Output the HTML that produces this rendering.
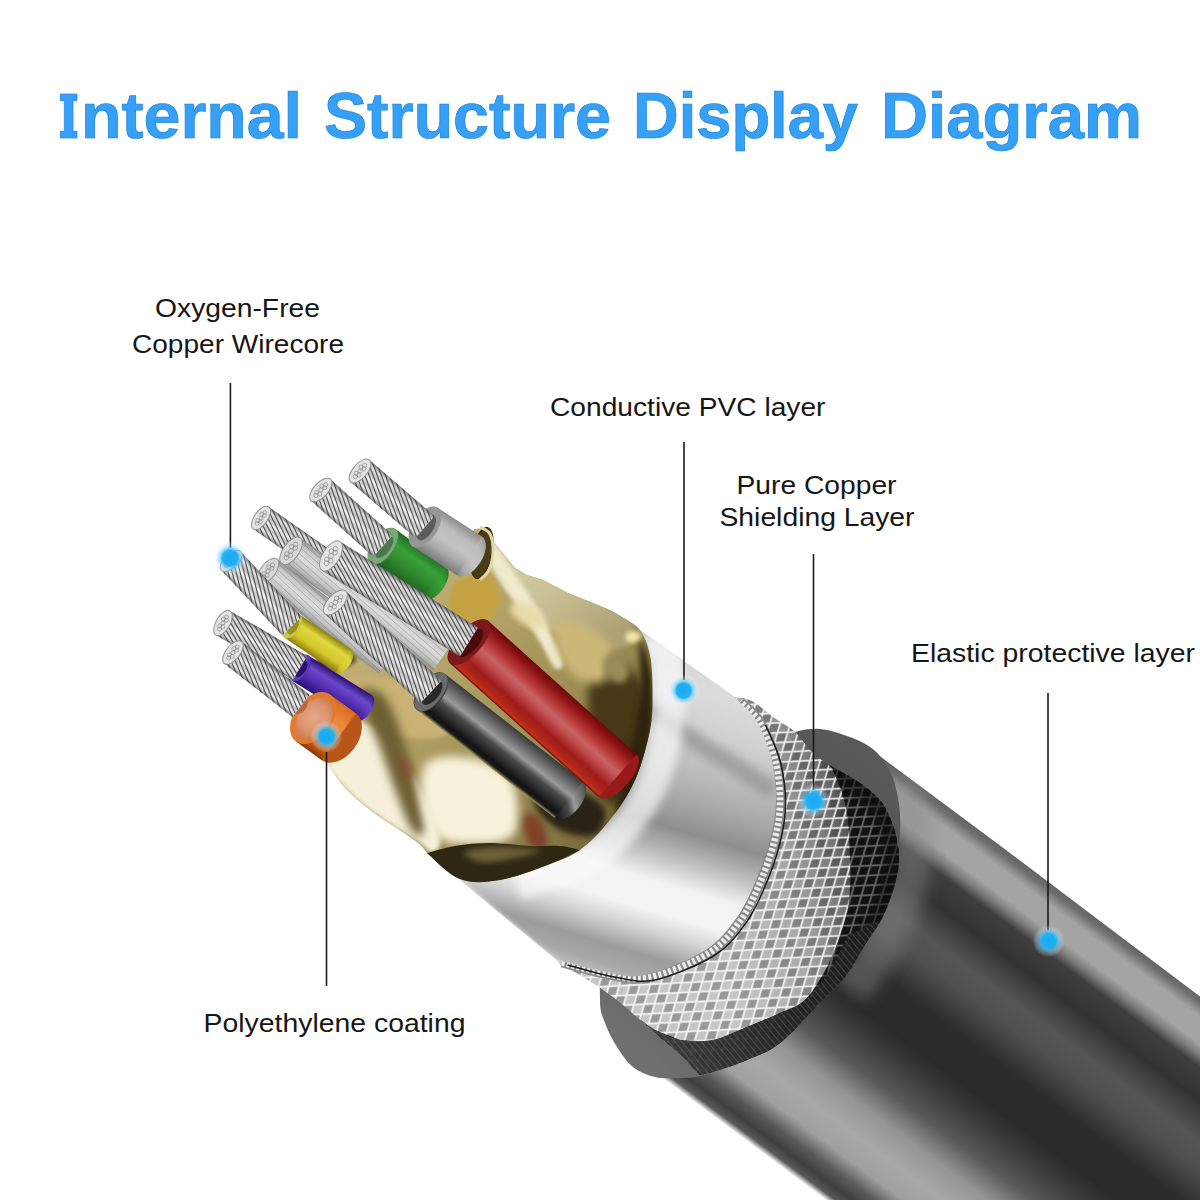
<!DOCTYPE html>
<html><head><meta charset="utf-8"><style>
html,body{margin:0;padding:0;background:#fff;width:1200px;height:1200px;overflow:hidden}
svg{display:block}
</style></head><body>
<svg width="1200" height="1200" viewBox="0 0 1200 1200">
<defs>
<filter id="fb5s" x="-30%" y="-30%" width="160%" height="160%"><feGaussianBlur stdDeviation="5"/></filter>
<filter id="fb8" x="-50%" y="-50%" width="200%" height="200%"><feGaussianBlur stdDeviation="8"/></filter>
<linearGradient id="gJacket" gradientUnits="userSpaceOnUse" x1="1000.0" y1="846.0" x2="768.0" y2="1157.0"><stop offset="0.000" stop-color="#646464"/><stop offset="0.015" stop-color="#6e6e6e"/><stop offset="0.030" stop-color="#8a8a8a"/><stop offset="0.045" stop-color="#a4a4a4"/><stop offset="0.100" stop-color="#a4a4a4"/><stop offset="0.125" stop-color="#7a7a7a"/><stop offset="0.150" stop-color="#3e3e3e"/><stop offset="0.220" stop-color="#333333"/><stop offset="0.300" stop-color="#555555"/><stop offset="0.360" stop-color="#505050"/><stop offset="0.450" stop-color="#2c2c2c"/><stop offset="0.550" stop-color="#2a2a2a"/><stop offset="0.600" stop-color="#3a3a3a"/><stop offset="0.680" stop-color="#5a5a5a"/><stop offset="0.750" stop-color="#959595"/><stop offset="0.820" stop-color="#a8a8a8"/><stop offset="0.880" stop-color="#a0a0a0"/><stop offset="0.925" stop-color="#5a5a5a"/><stop offset="0.960" stop-color="#3e3e3e"/><stop offset="0.985" stop-color="#5a5a5a"/><stop offset="1.000" stop-color="#ffffff"/></linearGradient>
<clipPath id="cJacket"><path d="M850.0,790.0 L881.0,757.0 L1000.0,845.5 L1100.0,921.0 L1210.0,1004.0 L1210.0,1210.0 L839.0,1210.0 L657.0,1075.0 L700.0,900.0Z"/></clipPath>
<linearGradient id="gFace" gradientUnits="userSpaceOnUse" x1="620.0" y1="1040.0" x2="880.0" y2="760.0"><stop offset="0.000" stop-color="#707070"/><stop offset="0.300" stop-color="#5e5e5e"/><stop offset="0.700" stop-color="#505050"/><stop offset="1.000" stop-color="#5a5a5a"/></linearGradient>
<linearGradient id="gBraid" gradientUnits="userSpaceOnUse" x1="720.0" y1="920.0" x2="865.0" y2="890.0"><stop offset="0.000" stop-color="#c6c6c6"/><stop offset="0.500" stop-color="#a8a8a8"/><stop offset="0.850" stop-color="#747474"/><stop offset="1.000" stop-color="#4a4a4a"/></linearGradient>
<pattern id="pMesh" patternUnits="userSpaceOnUse" width="17" height="12" patternTransform="rotate(-38)"><path d="M0,6 L8.5,0 L17,6 L8.5,12Z" fill="#000" fill-opacity="0.25" stroke="#fafafa" stroke-width="1.7"/></pattern>
<clipPath id="cDark"><path d="M827.0,764.0 C829.2,765.2 834.5,767.8 840.0,771.0 C845.5,774.2 853.3,778.2 860.0,783.0 C866.7,787.8 874.8,793.8 880.0,800.0 C885.2,806.2 888.2,813.3 891.0,820.0 C893.8,826.7 895.7,833.3 897.0,840.0 C898.3,846.7 899.2,853.0 899.0,860.0 C898.8,867.0 897.5,875.3 896.0,882.0 C894.5,888.7 892.5,893.7 890.0,900.0 C887.5,906.3 885.5,912.0 881.0,920.0 C876.5,928.0 869.0,938.5 863.0,948.0 C857.0,957.5 852.7,967.3 845.0,977.0 C837.3,986.7 827.8,995.0 817.0,1006.0 C806.2,1017.0 791.7,1034.0 780.0,1043.0 C768.3,1052.0 759.5,1054.8 747.0,1060.0 C734.5,1065.2 713.3,1072.0 705.0,1074.0 C696.7,1076.0 700.7,1074.8 697.0,1072.0 C693.3,1069.2 688.7,1062.3 683.0,1057.0 C677.3,1051.7 668.5,1044.8 663.0,1040.0 C657.5,1035.2 652.2,1030.0 650.0,1028.0 L680.0,1040.0 C685.5,1040.0 701.8,1042.2 713.0,1040.0 C724.2,1037.8 735.8,1031.5 747.0,1027.0 C758.2,1022.5 770.3,1017.5 780.0,1013.0 C789.7,1008.5 797.0,1008.0 805.0,1000.0 C813.0,992.0 821.3,978.3 828.0,965.0 C834.7,951.7 841.3,932.5 845.0,920.0 C848.7,907.5 849.2,900.0 850.0,890.0 C850.8,880.0 850.3,871.7 850.0,860.0 C849.7,848.3 849.3,831.2 848.0,820.0 C846.7,808.8 844.7,801.7 842.0,793.0 C839.3,784.3 833.7,772.2 832.0,768.0Z"/></clipPath>
<pattern id="pStreak" patternUnits="userSpaceOnUse" width="9" height="40" patternTransform="rotate(-35)"><path d="M4.5,0 L4.5,26" stroke="#e8e8e8" stroke-width="1.6"/></pattern>
<linearGradient id="gKnit" gradientUnits="userSpaceOnUse" x1="650.0" y1="1060.0" x2="880.0" y2="900.0"><stop offset="0.000" stop-color="#404040"/><stop offset="0.500" stop-color="#262626"/><stop offset="1.000" stop-color="#1c1c1c"/></linearGradient>
<pattern id="pKnit" patternUnits="userSpaceOnUse" width="5" height="8" patternTransform="rotate(-40)"><path d="M2.5,0 L2.5,8" stroke="#8a8a8a" stroke-width="1"/></pattern>
<clipPath id="cInside"><path d="M200.0,400.0 L660.0,400.0 L660.0,617.0 L622.0,617.0 C625.0,619.2 635.3,623.7 640.0,630.0 C644.7,636.3 647.9,644.7 650.0,655.0 C652.1,665.3 652.5,679.5 652.5,692.0 C652.5,704.5 652.9,715.3 650.0,730.0 C647.1,744.7 641.7,765.0 635.0,780.0 C628.3,795.0 619.2,808.3 610.0,820.0 C600.8,831.7 590.0,842.7 580.0,850.0 C570.0,857.3 563.3,859.0 550.0,864.0 C536.7,869.0 515.0,877.5 500.0,880.0 C485.0,882.5 472.2,883.5 460.0,879.0 C447.8,874.5 432.5,857.3 427.0,853.0 L200.0,853.0Z"/></clipPath>
<linearGradient id="gSilver" gradientUnits="userSpaceOnUse" x1="680.0" y1="632.5" x2="576.2" y2="976.2"><stop offset="0.000" stop-color="#d0d0d0"/><stop offset="0.139" stop-color="#dcdcdc"/><stop offset="0.250" stop-color="#d0d0d0"/><stop offset="0.361" stop-color="#bcbcbc"/><stop offset="0.444" stop-color="#a8a8a8"/><stop offset="0.528" stop-color="#8e8e8e"/><stop offset="0.597" stop-color="#b8b8b8"/><stop offset="0.681" stop-color="#f2f2f2"/><stop offset="0.764" stop-color="#f4f4f4"/><stop offset="0.819" stop-color="#d4d4d4"/><stop offset="0.889" stop-color="#9c9c9c"/><stop offset="0.944" stop-color="#a8a8a8"/><stop offset="1.000" stop-color="#d0d0d0"/></linearGradient>
<clipPath id="cSilver"><path d="M622.0,617.0 L735.0,697.0 L736.0,699.0 C739.3,702.5 750.2,710.3 756.0,720.0 C761.8,729.7 767.7,743.7 771.0,757.0 C774.3,770.3 776.2,786.2 776.0,800.0 C775.8,813.8 773.7,825.8 770.0,840.0 C766.3,854.2 759.8,871.7 754.0,885.0 C748.2,898.3 743.3,909.0 735.0,920.0 C726.7,931.0 719.0,941.8 704.0,951.0 C689.0,960.2 661.5,971.5 645.0,975.0 C628.5,978.5 619.5,974.5 605.0,972.0 C590.5,969.5 565.8,962.0 558.0,960.0 L560.0,963.0 L427.0,853.0 C432.5,857.3 447.8,874.5 460.0,879.0 C472.2,883.5 485.0,882.5 500.0,880.0 C515.0,877.5 536.7,869.0 550.0,864.0 C563.3,859.0 570.0,857.3 580.0,850.0 C590.0,842.7 600.8,831.7 610.0,820.0 C619.2,808.3 628.3,795.0 635.0,780.0 C641.7,765.0 647.1,744.7 650.0,730.0 C652.9,715.3 652.5,704.5 652.5,692.0 C652.5,679.5 652.1,665.3 650.0,655.0 C647.9,644.7 644.7,636.3 640.0,630.0 C635.3,623.7 625.0,619.2 622.0,617.0Z"/></clipPath>
<linearGradient id="gGold" gradientUnits="userSpaceOnUse" x1="360.0" y1="620.0" x2="640.0" y2="860.0"><stop offset="0.000" stop-color="#c4b27a"/><stop offset="0.300" stop-color="#b0a064"/><stop offset="0.600" stop-color="#9a8a52"/><stop offset="1.000" stop-color="#6a5c30"/></linearGradient>
<filter id="fb2" x="-20%" y="-20%" width="140%" height="140%"><feGaussianBlur stdDeviation="2"/></filter>
<filter id="fb3" x="-20%" y="-20%" width="140%" height="140%"><feGaussianBlur stdDeviation="3"/></filter>
<filter id="fb5" x="-30%" y="-30%" width="160%" height="160%"><feGaussianBlur stdDeviation="5"/></filter>
<clipPath id="cGold"><path d="M474.0,529.0 L486.0,528.0 L492.0,540.0 L502.0,552.0 L515.0,568.0 L527.0,575.0 L543.0,580.0 L568.0,593.0 L593.0,603.0 L612.0,611.0 L622.0,617.0 C625.0,619.2 635.3,623.7 640.0,630.0 C644.7,636.3 647.9,644.7 650.0,655.0 C652.1,665.3 652.5,679.5 652.5,692.0 C652.5,704.5 652.9,715.3 650.0,730.0 C647.1,744.7 641.7,765.0 635.0,780.0 C628.3,795.0 619.2,808.3 610.0,820.0 C600.8,831.7 590.0,842.7 580.0,850.0 C570.0,857.3 563.3,859.0 550.0,864.0 C536.7,869.0 515.0,877.5 500.0,880.0 C485.0,882.5 472.2,883.5 460.0,879.0 C447.8,874.5 432.5,857.3 427.0,853.0 C425.5,851.3 423.3,847.3 418.0,843.0 C412.7,838.7 403.0,832.5 395.0,827.0 C387.0,821.5 378.3,816.5 370.0,810.0 C361.7,803.5 352.2,795.8 345.0,788.0 C337.8,780.2 330.0,767.2 327.0,763.0 L320.0,745.0 L330.0,720.0 L317.0,655.0 L350.0,640.0 L400.0,600.0 L440.0,570.0 L470.0,545.0 L474.0,529.0Z"/></clipPath>
<linearGradient id="gGoldTop" gradientUnits="userSpaceOnUse" x1="500.0" y1="540.0" x2="600.0" y2="650.0"><stop offset="0.000" stop-color="#d8d0a8"/><stop offset="0.500" stop-color="#cac096"/><stop offset="1.000" stop-color="#aca074"/></linearGradient>
<linearGradient id="gw1" gradientUnits="userSpaceOnUse" x1="268.7" y1="506.9" x2="253.3" y2="529.1"><stop offset="0.000" stop-color="#7a7a7a"/><stop offset="0.150" stop-color="#e0e0e0"/><stop offset="0.350" stop-color="#c4c4c4"/><stop offset="0.500" stop-color="#f4f4f4"/><stop offset="0.680" stop-color="#c8c8c8"/><stop offset="0.850" stop-color="#e8e8e8"/><stop offset="1.000" stop-color="#7e7e7e"/></linearGradient>
<clipPath id="cs2"><path d="M253.3,529.1 L376.1,615.1 L391.6,593.0 L268.7,506.9Z"/></clipPath>
<linearGradient id="gw3" gradientUnits="userSpaceOnUse" x1="300.2" y1="537.9" x2="281.8" y2="564.1"><stop offset="0.000" stop-color="#8e8e8e"/><stop offset="0.200" stop-color="#c8c8c8"/><stop offset="0.500" stop-color="#dcdcdc"/><stop offset="0.800" stop-color="#c0c0c0"/><stop offset="1.000" stop-color="#929292"/></linearGradient>
<clipPath id="cs4"><path d="M281.8,564.1 L433.4,670.2 L451.7,644.0 L300.2,537.9Z"/></clipPath>
<linearGradient id="gw5" gradientUnits="userSpaceOnUse" x1="277.0" y1="559.0" x2="259.0" y2="583.0"><stop offset="0.000" stop-color="#8e8e8e"/><stop offset="0.200" stop-color="#c8c8c8"/><stop offset="0.500" stop-color="#dcdcdc"/><stop offset="0.800" stop-color="#c0c0c0"/><stop offset="1.000" stop-color="#929292"/></linearGradient>
<clipPath id="cs6"><path d="M259.0,583.0 L378.8,673.3 L396.8,649.3 L277.0,559.0Z"/></clipPath>
<linearGradient id="gw7" gradientUnits="userSpaceOnUse" x1="395.3" y1="529.0" x2="370.7" y2="563.0"><stop offset="0.000" stop-color="#1f6e1f"/><stop offset="0.300" stop-color="#3aa03a"/><stop offset="0.600" stop-color="#2e8a2e"/><stop offset="1.000" stop-color="#1c5a1c"/></linearGradient>
<linearGradient id="gw8" gradientUnits="userSpaceOnUse" x1="330.5" y1="479.2" x2="311.1" y2="500.8"><stop offset="0.000" stop-color="#7a7a7a"/><stop offset="0.150" stop-color="#e0e0e0"/><stop offset="0.350" stop-color="#c4c4c4"/><stop offset="0.500" stop-color="#f4f4f4"/><stop offset="0.680" stop-color="#c8c8c8"/><stop offset="0.850" stop-color="#e8e8e8"/><stop offset="1.000" stop-color="#7e7e7e"/></linearGradient>
<clipPath id="cs9"><path d="M311.1,500.8 L373.3,556.8 L392.7,535.2 L330.5,479.2Z"/></clipPath>
<linearGradient id="gw10" gradientUnits="userSpaceOnUse" x1="437.5" y1="507.7" x2="412.5" y2="546.3"><stop offset="0.000" stop-color="#8c8c8c"/><stop offset="0.250" stop-color="#bcbcbc"/><stop offset="0.500" stop-color="#c4c4c4"/><stop offset="0.750" stop-color="#a8a8a8"/><stop offset="1.000" stop-color="#7a7a7a"/></linearGradient>
<linearGradient id="gw11" gradientUnits="userSpaceOnUse" x1="369.5" y1="460.0" x2="350.5" y2="482.0"><stop offset="0.000" stop-color="#7a7a7a"/><stop offset="0.150" stop-color="#e0e0e0"/><stop offset="0.350" stop-color="#c4c4c4"/><stop offset="0.500" stop-color="#f4f4f4"/><stop offset="0.680" stop-color="#c8c8c8"/><stop offset="0.850" stop-color="#e8e8e8"/><stop offset="1.000" stop-color="#7e7e7e"/></linearGradient>
<clipPath id="cs12"><path d="M350.5,482.0 L415.5,538.0 L434.5,516.0 L369.5,460.0Z"/></clipPath>
<linearGradient id="gw13" gradientUnits="userSpaceOnUse" x1="299.8" y1="614.4" x2="284.2" y2="637.6"><stop offset="0.000" stop-color="#8a7e10"/><stop offset="0.300" stop-color="#e0d840"/><stop offset="0.700" stop-color="#d2c62a"/><stop offset="1.000" stop-color="#8a7e10"/></linearGradient>
<linearGradient id="gw14" gradientUnits="userSpaceOnUse" x1="240.8" y1="551.8" x2="221.2" y2="570.2"><stop offset="0.000" stop-color="#7a7a7a"/><stop offset="0.150" stop-color="#e0e0e0"/><stop offset="0.350" stop-color="#c4c4c4"/><stop offset="0.500" stop-color="#f4f4f4"/><stop offset="0.680" stop-color="#c8c8c8"/><stop offset="0.850" stop-color="#e8e8e8"/><stop offset="1.000" stop-color="#7e7e7e"/></linearGradient>
<clipPath id="cs15"><path d="M221.2,570.2 L282.2,635.2 L301.8,616.8 L240.8,551.8Z"/></clipPath>
<linearGradient id="gw16" gradientUnits="userSpaceOnUse" x1="445.2" y1="673.9" x2="416.8" y2="710.1"><stop offset="0.000" stop-color="#3a3a3a"/><stop offset="0.200" stop-color="#6a6a6a"/><stop offset="0.400" stop-color="#9a9a9a"/><stop offset="0.550" stop-color="#4a4a4a"/><stop offset="0.850" stop-color="#141414"/><stop offset="0.930" stop-color="#1a1a1a"/><stop offset="1.000" stop-color="#b0a060"/></linearGradient>
<linearGradient id="gw17" gradientUnits="userSpaceOnUse" x1="346.0" y1="591.2" x2="324.8" y2="613.8"><stop offset="0.000" stop-color="#7a7a7a"/><stop offset="0.150" stop-color="#e0e0e0"/><stop offset="0.350" stop-color="#c4c4c4"/><stop offset="0.500" stop-color="#f4f4f4"/><stop offset="0.680" stop-color="#c8c8c8"/><stop offset="0.850" stop-color="#e8e8e8"/><stop offset="1.000" stop-color="#7e7e7e"/></linearGradient>
<clipPath id="cs18"><path d="M324.8,613.8 L420.4,703.3 L441.6,680.7 L346.0,591.2Z"/></clipPath>
<linearGradient id="gw19" gradientUnits="userSpaceOnUse" x1="488.1" y1="620.8" x2="449.9" y2="663.2"><stop offset="0.000" stop-color="#6a0a0a"/><stop offset="0.120" stop-color="#901414"/><stop offset="0.300" stop-color="#b83838"/><stop offset="0.450" stop-color="#c86464"/><stop offset="0.550" stop-color="#c05050"/><stop offset="0.750" stop-color="#a01c1c"/><stop offset="0.900" stop-color="#b02818"/><stop offset="0.960" stop-color="#c83018"/><stop offset="1.000" stop-color="#5a0808"/></linearGradient>
<linearGradient id="gw20" gradientUnits="userSpaceOnUse" x1="340.0" y1="541.6" x2="322.0" y2="570.4"><stop offset="0.000" stop-color="#7a7a7a"/><stop offset="0.150" stop-color="#e0e0e0"/><stop offset="0.350" stop-color="#c4c4c4"/><stop offset="0.500" stop-color="#f4f4f4"/><stop offset="0.680" stop-color="#c8c8c8"/><stop offset="0.850" stop-color="#e8e8e8"/><stop offset="1.000" stop-color="#7e7e7e"/></linearGradient>
<clipPath id="cs21"><path d="M322.0,570.4 L460.0,656.4 L478.0,627.6 L340.0,541.6Z"/></clipPath>
<linearGradient id="gw22" gradientUnits="userSpaceOnUse" x1="307.9" y1="655.3" x2="292.1" y2="680.7"><stop offset="0.000" stop-color="#2a1070"/><stop offset="0.300" stop-color="#6a48c8"/><stop offset="0.700" stop-color="#4a28a8"/><stop offset="1.000" stop-color="#2a1070"/></linearGradient>
<linearGradient id="gw23" gradientUnits="userSpaceOnUse" x1="230.1" y1="610.9" x2="215.9" y2="635.1"><stop offset="0.000" stop-color="#7a7a7a"/><stop offset="0.150" stop-color="#e0e0e0"/><stop offset="0.350" stop-color="#c4c4c4"/><stop offset="0.500" stop-color="#f4f4f4"/><stop offset="0.680" stop-color="#c8c8c8"/><stop offset="0.850" stop-color="#e8e8e8"/><stop offset="1.000" stop-color="#7e7e7e"/></linearGradient>
<clipPath id="cs24"><path d="M215.9,635.1 L292.9,680.1 L307.1,655.9 L230.1,610.9Z"/></clipPath>
<linearGradient id="gw25" gradientUnits="userSpaceOnUse" x1="330.0" y1="694.5" x2="296.0" y2="741.5"><stop offset="0.000" stop-color="#d86a1c"/><stop offset="0.300" stop-color="#ee8a3c"/><stop offset="0.600" stop-color="#e27628"/><stop offset="0.850" stop-color="#c85a10"/><stop offset="1.000" stop-color="#8a3a08"/></linearGradient>
<radialGradient id="gOrFace" gradientUnits="userSpaceOnUse" cx="313.0" cy="718.0" r="24.0"><stop offset="0.000" stop-color="#e6a886"/><stop offset="0.600" stop-color="#dc9470"/><stop offset="1.000" stop-color="#d27a48"/></radialGradient>
<linearGradient id="gw26" gradientUnits="userSpaceOnUse" x1="241.7" y1="641.5" x2="224.3" y2="663.5"><stop offset="0.000" stop-color="#7a7a7a"/><stop offset="0.150" stop-color="#e0e0e0"/><stop offset="0.350" stop-color="#c4c4c4"/><stop offset="0.500" stop-color="#f4f4f4"/><stop offset="0.680" stop-color="#c8c8c8"/><stop offset="0.850" stop-color="#e8e8e8"/><stop offset="1.000" stop-color="#7e7e7e"/></linearGradient>
<clipPath id="cs27"><path d="M224.3,663.5 L292.3,717.0 L309.7,695.0 L241.7,641.5Z"/></clipPath>
<radialGradient id="gDot"><stop offset="0" stop-color="#1aa8f0"/><stop offset="0.45" stop-color="#1fb0f5"/><stop offset="0.6" stop-color="#5cc8fa" stop-opacity="0.6"/><stop offset="1" stop-color="#ffffff" stop-opacity="0"/></radialGradient>
</defs>
<rect width="1200" height="1200" fill="#fff"/>
<path d="M850.0,790.0 L881.0,757.0 L1000.0,845.5 L1100.0,921.0 L1210.0,1004.0 L1210.0,1210.0 L839.0,1210.0 L657.0,1075.0 L700.0,900.0Z" fill="url(#gJacket)"/>
<path d="M900.0,780.0 C902.0,787.5 910.3,810.0 912.0,825.0 C913.7,840.0 912.3,855.8 910.0,870.0 C907.7,884.2 903.3,896.7 898.0,910.0 C892.7,923.3 886.0,936.7 878.0,950.0 C870.0,963.3 854.7,983.3 850.0,990.0" fill="none" stroke="#8a8a8a" stroke-width="40" opacity="0.45" filter="url(#fb8)" clip-path="url(#cJacket)"/>
<path d="M600.0,1000.0 C600.0,1012.2 602.2,1015.2 605.0,1023.0 C607.8,1030.8 612.3,1039.7 617.0,1047.0 C621.7,1054.3 626.7,1062.0 633.0,1067.0 C639.3,1072.0 647.2,1075.2 655.0,1077.0 C662.8,1078.8 671.7,1078.3 680.0,1078.0 C688.3,1077.7 693.8,1078.0 705.0,1075.0 C716.2,1072.0 734.5,1065.3 747.0,1060.0 C759.5,1054.7 768.3,1052.0 780.0,1043.0 C791.7,1034.0 806.2,1017.0 817.0,1006.0 C827.8,995.0 837.3,987.0 845.0,977.0 C852.7,967.0 857.0,957.2 863.0,946.0 C869.0,934.8 876.0,921.0 881.0,910.0 C886.0,899.0 890.2,888.3 893.0,880.0 C895.8,871.7 896.8,867.8 898.0,860.0 C899.2,852.2 899.7,840.8 900.0,833.0 C900.3,825.2 900.5,819.7 900.0,813.0 C899.5,806.3 898.5,799.7 897.0,793.0 C895.5,786.3 893.8,779.2 891.0,773.0 C888.2,766.8 884.0,760.7 880.0,756.0 C876.0,751.3 872.5,748.3 867.0,745.0 C861.5,741.7 854.8,738.7 847.0,736.0 C839.2,733.3 828.7,729.7 820.0,729.0 C811.3,728.3 805.0,729.3 795.0,732.0 C785.0,734.7 775.8,733.7 760.0,745.0 C744.2,756.3 720.0,777.5 700.0,800.0 C680.0,822.5 655.8,855.0 640.0,880.0 C624.2,905.0 611.7,930.0 605.0,950.0 C598.3,970.0 600.0,987.8 600.0,1000.0Z" fill="url(#gFace)"/>
<path d="M735.0,697.0 C737.8,697.7 745.7,697.7 752.0,701.0 C758.3,704.3 765.8,711.8 773.0,717.0 C780.2,722.2 788.7,726.3 795.0,732.0 C801.3,737.7 805.7,745.7 811.0,751.0 C816.3,756.3 822.2,760.7 827.0,764.0 C831.8,767.3 834.5,767.8 840.0,771.0 C845.5,774.2 853.3,778.2 860.0,783.0 C866.7,787.8 874.8,793.8 880.0,800.0 C885.2,806.2 888.2,813.3 891.0,820.0 C893.8,826.7 895.7,833.3 897.0,840.0 C898.3,846.7 899.2,853.0 899.0,860.0 C898.8,867.0 897.5,875.3 896.0,882.0 C894.5,888.7 892.5,893.7 890.0,900.0 C887.5,906.3 885.5,912.0 881.0,920.0 C876.5,928.0 869.0,938.5 863.0,948.0 C857.0,957.5 852.7,967.3 845.0,977.0 C837.3,986.7 827.8,995.0 817.0,1006.0 C806.2,1017.0 791.7,1034.0 780.0,1043.0 C768.3,1052.0 759.5,1054.8 747.0,1060.0 C734.5,1065.2 713.3,1072.0 705.0,1074.0 C696.7,1076.0 700.7,1074.8 697.0,1072.0 C693.3,1069.2 688.7,1062.3 683.0,1057.0 C677.3,1051.7 670.5,1046.5 663.0,1040.0 C655.5,1033.5 646.3,1025.2 638.0,1018.0 C629.7,1010.8 622.7,1004.2 613.0,997.0 C603.3,989.8 588.8,980.3 580.0,975.0 C571.2,969.7 563.3,966.7 560.0,965.0 L558.0,960.0 C565.8,962.0 590.5,969.5 605.0,972.0 C619.5,974.5 628.5,978.5 645.0,975.0 C661.5,971.5 689.0,960.2 704.0,951.0 C719.0,941.8 726.7,931.0 735.0,920.0 C743.3,909.0 748.2,898.3 754.0,885.0 C759.8,871.7 766.3,854.2 770.0,840.0 C773.7,825.8 775.8,813.8 776.0,800.0 C776.2,786.2 774.3,770.3 771.0,757.0 C767.7,743.7 761.8,729.7 756.0,720.0 C750.2,710.3 739.3,702.5 736.0,699.0Z" fill="url(#gBraid)"/>
<path d="M735.0,697.0 C737.8,697.7 745.7,697.7 752.0,701.0 C758.3,704.3 765.8,711.8 773.0,717.0 C780.2,722.2 788.7,726.3 795.0,732.0 C801.3,737.7 805.7,745.7 811.0,751.0 C816.3,756.3 822.2,760.7 827.0,764.0 C831.8,767.3 834.5,767.8 840.0,771.0 C845.5,774.2 853.3,778.2 860.0,783.0 C866.7,787.8 874.8,793.8 880.0,800.0 C885.2,806.2 888.2,813.3 891.0,820.0 C893.8,826.7 895.7,833.3 897.0,840.0 C898.3,846.7 899.2,853.0 899.0,860.0 C898.8,867.0 897.5,875.3 896.0,882.0 C894.5,888.7 892.5,893.7 890.0,900.0 C887.5,906.3 885.5,912.0 881.0,920.0 C876.5,928.0 869.0,938.5 863.0,948.0 C857.0,957.5 852.7,967.3 845.0,977.0 C837.3,986.7 827.8,995.0 817.0,1006.0 C806.2,1017.0 791.7,1034.0 780.0,1043.0 C768.3,1052.0 759.5,1054.8 747.0,1060.0 C734.5,1065.2 713.3,1072.0 705.0,1074.0 C696.7,1076.0 700.7,1074.8 697.0,1072.0 C693.3,1069.2 688.7,1062.3 683.0,1057.0 C677.3,1051.7 670.5,1046.5 663.0,1040.0 C655.5,1033.5 646.3,1025.2 638.0,1018.0 C629.7,1010.8 622.7,1004.2 613.0,997.0 C603.3,989.8 588.8,980.3 580.0,975.0 C571.2,969.7 563.3,966.7 560.0,965.0 L558.0,960.0 C565.8,962.0 590.5,969.5 605.0,972.0 C619.5,974.5 628.5,978.5 645.0,975.0 C661.5,971.5 689.0,960.2 704.0,951.0 C719.0,941.8 726.7,931.0 735.0,920.0 C743.3,909.0 748.2,898.3 754.0,885.0 C759.8,871.7 766.3,854.2 770.0,840.0 C773.7,825.8 775.8,813.8 776.0,800.0 C776.2,786.2 774.3,770.3 771.0,757.0 C767.7,743.7 761.8,729.7 756.0,720.0 C750.2,710.3 739.3,702.5 736.0,699.0Z" fill="url(#pMesh)" opacity="0.9"/>
<path d="M827.0,764.0 C829.2,765.2 834.5,767.8 840.0,771.0 C845.5,774.2 853.3,778.2 860.0,783.0 C866.7,787.8 874.8,793.8 880.0,800.0 C885.2,806.2 888.2,813.3 891.0,820.0 C893.8,826.7 895.7,833.3 897.0,840.0 C898.3,846.7 899.2,853.0 899.0,860.0 C898.8,867.0 897.5,875.3 896.0,882.0 C894.5,888.7 892.5,893.7 890.0,900.0 C887.5,906.3 885.5,912.0 881.0,920.0 C876.5,928.0 869.0,938.5 863.0,948.0 C857.0,957.5 852.7,967.3 845.0,977.0 C837.3,986.7 827.8,995.0 817.0,1006.0 C806.2,1017.0 791.7,1034.0 780.0,1043.0 C768.3,1052.0 759.5,1054.8 747.0,1060.0 C734.5,1065.2 713.3,1072.0 705.0,1074.0 C696.7,1076.0 700.7,1074.8 697.0,1072.0 C693.3,1069.2 688.7,1062.3 683.0,1057.0 C677.3,1051.7 668.5,1044.8 663.0,1040.0 C657.5,1035.2 652.2,1030.0 650.0,1028.0 L680.0,1040.0 C685.5,1040.0 701.8,1042.2 713.0,1040.0 C724.2,1037.8 735.8,1031.5 747.0,1027.0 C758.2,1022.5 770.3,1017.5 780.0,1013.0 C789.7,1008.5 797.0,1008.0 805.0,1000.0 C813.0,992.0 821.3,978.3 828.0,965.0 C834.7,951.7 841.3,932.5 845.0,920.0 C848.7,907.5 849.2,900.0 850.0,890.0 C850.8,880.0 850.3,871.7 850.0,860.0 C849.7,848.3 849.3,831.2 848.0,820.0 C846.7,808.8 844.7,801.7 842.0,793.0 C839.3,784.3 833.7,772.2 832.0,768.0Z" fill="#0e0e0e" opacity="0.92"/>
<path d="M827.0,764.0 C829.2,765.2 834.5,767.8 840.0,771.0 C845.5,774.2 853.3,778.2 860.0,783.0 C866.7,787.8 874.8,793.8 880.0,800.0 C885.2,806.2 888.2,813.3 891.0,820.0 C893.8,826.7 895.7,833.3 897.0,840.0 C898.3,846.7 899.2,853.0 899.0,860.0 C898.8,867.0 897.5,875.3 896.0,882.0 C894.5,888.7 892.5,893.7 890.0,900.0 C887.5,906.3 885.5,912.0 881.0,920.0 C876.5,928.0 869.0,938.5 863.0,948.0 C857.0,957.5 852.7,967.3 845.0,977.0 C837.3,986.7 827.8,995.0 817.0,1006.0 C806.2,1017.0 791.7,1034.0 780.0,1043.0 C768.3,1052.0 759.5,1054.8 747.0,1060.0 C734.5,1065.2 713.3,1072.0 705.0,1074.0 C696.7,1076.0 700.7,1074.8 697.0,1072.0 C693.3,1069.2 688.7,1062.3 683.0,1057.0 C677.3,1051.7 668.5,1044.8 663.0,1040.0 C657.5,1035.2 652.2,1030.0 650.0,1028.0 L680.0,1040.0 C685.5,1040.0 701.8,1042.2 713.0,1040.0 C724.2,1037.8 735.8,1031.5 747.0,1027.0 C758.2,1022.5 770.3,1017.5 780.0,1013.0 C789.7,1008.5 797.0,1008.0 805.0,1000.0 C813.0,992.0 821.3,978.3 828.0,965.0 C834.7,951.7 841.3,932.5 845.0,920.0 C848.7,907.5 849.2,900.0 850.0,890.0 C850.8,880.0 850.3,871.7 850.0,860.0 C849.7,848.3 849.3,831.2 848.0,820.0 C846.7,808.8 844.7,801.7 842.0,793.0 C839.3,784.3 833.7,772.2 832.0,768.0Z" fill="url(#pMesh)" opacity="0.35"/>
<path d="M827.0,764.0 C829.2,765.2 834.5,767.8 840.0,771.0 C845.5,774.2 853.3,778.2 860.0,783.0 C866.7,787.8 874.8,793.8 880.0,800.0 C885.2,806.2 888.2,813.3 891.0,820.0 C893.8,826.7 895.7,833.3 897.0,840.0 C898.3,846.7 899.2,853.0 899.0,860.0 C898.8,867.0 897.5,875.3 896.0,882.0 C894.5,888.7 892.5,893.7 890.0,900.0 C887.5,906.3 885.5,912.0 881.0,920.0 C876.5,928.0 869.0,938.5 863.0,948.0 C857.0,957.5 852.7,967.3 845.0,977.0 C837.3,986.7 827.8,995.0 817.0,1006.0 C806.2,1017.0 791.7,1034.0 780.0,1043.0 C768.3,1052.0 759.5,1054.8 747.0,1060.0 C734.5,1065.2 712.0,1071.7 705.0,1074.0" fill="none" stroke="#0e0e0e" stroke-width="30" opacity="0.55" filter="url(#fb3)" clip-path="url(#cDark)"/>
<path d="M881.0,920.0 C878.0,924.7 869.0,938.5 863.0,948.0 C857.0,957.5 852.7,967.3 845.0,977.0 C837.3,986.7 827.8,995.0 817.0,1006.0 C806.2,1017.0 791.7,1034.0 780.0,1043.0 C768.3,1052.0 759.5,1054.8 747.0,1060.0 C734.5,1065.2 713.3,1072.0 705.0,1074.0 C696.7,1076.0 700.7,1074.8 697.0,1072.0 C693.3,1069.2 688.7,1062.3 683.0,1057.0 C677.3,1051.7 670.5,1046.5 663.0,1040.0 C655.5,1033.5 642.2,1021.7 638.0,1018.0 L655.0,1030.0 C659.2,1031.7 670.3,1038.3 680.0,1040.0 C689.7,1041.7 701.8,1042.2 713.0,1040.0 C724.2,1037.8 735.8,1031.5 747.0,1027.0 C758.2,1022.5 770.3,1017.5 780.0,1013.0 C789.7,1008.5 796.7,1007.2 805.0,1000.0 C813.3,992.8 822.8,980.8 830.0,970.0 C837.2,959.2 845.0,940.8 848.0,935.0Z" fill="url(#gKnit)" opacity="0.9"/>
<path d="M881.0,920.0 C878.0,924.7 869.0,938.5 863.0,948.0 C857.0,957.5 852.7,967.3 845.0,977.0 C837.3,986.7 827.8,995.0 817.0,1006.0 C806.2,1017.0 791.7,1034.0 780.0,1043.0 C768.3,1052.0 759.5,1054.8 747.0,1060.0 C734.5,1065.2 713.3,1072.0 705.0,1074.0 C696.7,1076.0 700.7,1074.8 697.0,1072.0 C693.3,1069.2 688.7,1062.3 683.0,1057.0 C677.3,1051.7 670.5,1046.5 663.0,1040.0 C655.5,1033.5 642.2,1021.7 638.0,1018.0 L655.0,1030.0 C659.2,1031.7 670.3,1038.3 680.0,1040.0 C689.7,1041.7 701.8,1042.2 713.0,1040.0 C724.2,1037.8 735.8,1031.5 747.0,1027.0 C758.2,1022.5 770.3,1017.5 780.0,1013.0 C789.7,1008.5 796.7,1007.2 805.0,1000.0 C813.3,992.8 822.8,980.8 830.0,970.0 C837.2,959.2 845.0,940.8 848.0,935.0Z" fill="url(#pKnit)" opacity="0.35"/>
<path d="M562.0,962.5 C569.8,964.5 594.5,972.0 609.0,974.5 C623.5,977.0 632.5,981.0 649.0,977.5 C665.5,974.0 693.0,962.7 708.0,953.5 C723.0,944.3 730.7,933.5 739.0,922.5 C747.3,911.5 752.2,900.8 758.0,887.5 C763.8,874.2 770.3,856.7 774.0,842.5 C777.7,828.3 779.8,816.3 780.0,802.5 C780.2,788.7 778.3,772.8 775.0,759.5 C771.7,746.2 765.8,732.2 760.0,722.5 C754.2,712.8 743.3,705.0 740.0,701.5" fill="none" stroke="#8a8a8a" stroke-width="10"/>
<path d="M562.0,962.5 C569.8,964.5 594.5,972.0 609.0,974.5 C623.5,977.0 632.5,981.0 649.0,977.5 C665.5,974.0 693.0,962.7 708.0,953.5 C723.0,944.3 730.7,933.5 739.0,922.5 C747.3,911.5 752.2,900.8 758.0,887.5 C763.8,874.2 770.3,856.7 774.0,842.5 C777.7,828.3 779.8,816.3 780.0,802.5 C780.2,788.7 778.3,772.8 775.0,759.5 C771.7,746.2 765.8,732.2 760.0,722.5 C754.2,712.8 743.3,705.0 740.0,701.5" fill="none" stroke="#ececec" stroke-width="6.5" stroke-dasharray="3 2.2"/>
<path d="M567.5,965.0 C575.3,967.0 600.0,974.5 614.5,977.0 C629.0,979.5 638.0,983.5 654.5,980.0 C671.0,976.5 698.5,965.2 713.5,956.0 C728.5,946.8 736.2,936.0 744.5,925.0 C752.8,914.0 757.7,903.3 763.5,890.0 C769.3,876.7 775.8,859.2 779.5,845.0 C783.2,830.8 785.3,818.8 785.5,805.0 C785.7,791.2 783.8,775.3 780.5,762.0 C777.2,748.7 768.0,731.2 765.5,725.0" fill="none" stroke="#1a1a1a" stroke-width="1.5"/>
<path d="M622.0,617.0 L735.0,697.0 L736.0,699.0 C739.3,702.5 750.2,710.3 756.0,720.0 C761.8,729.7 767.7,743.7 771.0,757.0 C774.3,770.3 776.2,786.2 776.0,800.0 C775.8,813.8 773.7,825.8 770.0,840.0 C766.3,854.2 759.8,871.7 754.0,885.0 C748.2,898.3 743.3,909.0 735.0,920.0 C726.7,931.0 719.0,941.8 704.0,951.0 C689.0,960.2 661.5,971.5 645.0,975.0 C628.5,978.5 619.5,974.5 605.0,972.0 C590.5,969.5 565.8,962.0 558.0,960.0 L560.0,963.0 L427.0,853.0 C432.5,857.3 447.8,874.5 460.0,879.0 C472.2,883.5 485.0,882.5 500.0,880.0 C515.0,877.5 536.7,869.0 550.0,864.0 C563.3,859.0 570.0,857.3 580.0,850.0 C590.0,842.7 600.8,831.7 610.0,820.0 C619.2,808.3 628.3,795.0 635.0,780.0 C641.7,765.0 647.1,744.7 650.0,730.0 C652.9,715.3 652.5,704.5 652.5,692.0 C652.5,679.5 652.1,665.3 650.0,655.0 C647.9,644.7 644.7,636.3 640.0,630.0 C635.3,623.7 625.0,619.2 622.0,617.0Z" fill="url(#gSilver)"/>
<path d="M650.0,708.0 C656.7,713.0 676.7,728.8 690.0,738.0 C703.3,747.2 715.8,754.0 730.0,763.0 C744.2,772.0 767.5,787.2 775.0,792.0" fill="none" stroke="#949494" stroke-width="18" opacity="0.75" filter="url(#fb5s)" clip-path="url(#cSilver)"/>
<path d="M657.0,635.0 C658.7,639.2 664.9,649.7 667.0,660.0 C669.1,670.3 669.5,684.5 669.5,697.0 C669.5,709.5 669.9,720.3 667.0,735.0 C664.1,749.7 658.7,770.0 652.0,785.0 C645.3,800.0 636.2,813.3 627.0,825.0 C617.8,836.7 607.0,847.7 597.0,855.0 C587.0,862.3 580.3,864.0 567.0,869.0 C553.7,874.0 525.3,882.3 517.0,885.0" fill="none" stroke="#fafafa" stroke-width="30" opacity="0.7" filter="url(#fb5s)" clip-path="url(#cSilver)"/>
<path d="M420,850 L556,964" stroke="#ffffff" stroke-width="7" opacity="0.7" filter="url(#fb2)"/>
<path d="M474.0,529.0 L486.0,528.0 L492.0,540.0 L502.0,552.0 L515.0,568.0 L527.0,575.0 L543.0,580.0 L568.0,593.0 L593.0,603.0 L612.0,611.0 L622.0,617.0 C625.0,619.2 635.3,623.7 640.0,630.0 C644.7,636.3 647.9,644.7 650.0,655.0 C652.1,665.3 652.5,679.5 652.5,692.0 C652.5,704.5 652.9,715.3 650.0,730.0 C647.1,744.7 641.7,765.0 635.0,780.0 C628.3,795.0 619.2,808.3 610.0,820.0 C600.8,831.7 590.0,842.7 580.0,850.0 C570.0,857.3 563.3,859.0 550.0,864.0 C536.7,869.0 515.0,877.5 500.0,880.0 C485.0,882.5 472.2,883.5 460.0,879.0 C447.8,874.5 432.5,857.3 427.0,853.0 C425.5,851.3 423.3,847.3 418.0,843.0 C412.7,838.7 403.0,832.5 395.0,827.0 C387.0,821.5 378.3,816.5 370.0,810.0 C361.7,803.5 352.2,795.8 345.0,788.0 C337.8,780.2 330.0,767.2 327.0,763.0 L320.0,745.0 L330.0,720.0 L317.0,655.0 L350.0,640.0 L400.0,600.0 L440.0,570.0 L470.0,545.0 L474.0,529.0Z" fill="url(#gGold)"/>
<g clip-path="url(#cGold)"><path d="M488.0,524.0 C490.7,522.8 497.5,541.2 502.0,548.0 C506.5,554.8 510.8,561.0 515.0,565.0 C519.2,569.0 522.3,570.0 527.0,572.0 C531.7,574.0 536.2,574.0 543.0,577.0 C549.8,580.0 559.7,586.2 568.0,590.0 C576.3,593.8 584.7,596.3 593.0,600.0 C601.3,603.7 611.5,609.3 618.0,612.0 C624.5,614.7 630.3,610.5 632.0,616.0 C633.7,621.5 633.3,639.7 628.0,645.0 C622.7,650.3 609.7,649.2 600.0,648.0 C590.3,646.8 579.2,641.3 570.0,638.0 C560.8,634.7 553.0,633.0 545.0,628.0 C537.0,623.0 529.5,615.7 522.0,608.0 C514.5,600.3 506.0,590.8 500.0,582.0 C494.0,573.2 488.0,564.7 486.0,555.0 C484.0,545.3 485.3,525.2 488.0,524.0Z" fill="url(#gGoldTop)" filter="url(#fb2)"/><path d="M494.0,545.0 C497.8,547.3 505.7,560.8 512.0,570.0 C518.3,579.2 525.7,589.7 532.0,600.0 C538.3,610.3 544.8,621.7 550.0,632.0 C555.2,642.3 562.2,656.0 563.0,662.0 C563.8,668.0 558.8,671.3 555.0,668.0 C551.2,664.7 545.8,651.7 540.0,642.0 C534.2,632.3 526.7,620.3 520.0,610.0 C513.3,599.7 505.2,589.0 500.0,580.0 C494.8,571.0 490.0,561.8 489.0,556.0 C488.0,550.2 490.2,542.7 494.0,545.0Z" fill="#f0eacd" filter="url(#fb2)"/><path d="M455.0,583.0 C461.0,575.3 480.5,573.2 488.0,576.0 C495.5,578.8 501.0,591.8 500.0,600.0 C499.0,608.2 490.0,621.3 482.0,625.0 C474.0,628.7 456.5,629.0 452.0,622.0 C447.5,615.0 449.0,590.7 455.0,583.0Z" fill="#c4a242" filter="url(#fb2)"/><path d="M595.0,660.0 C601.2,654.2 616.7,660.0 625.0,665.0 C633.3,670.0 640.8,679.2 645.0,690.0 C649.2,700.8 650.5,716.7 650.0,730.0 C649.5,743.3 646.7,757.5 642.0,770.0 C637.3,782.5 629.0,800.8 622.0,805.0 C615.0,809.2 605.0,805.0 600.0,795.0 C595.0,785.0 594.0,760.8 592.0,745.0 C590.0,729.2 587.5,714.2 588.0,700.0 C588.5,685.8 588.8,665.8 595.0,660.0Z" fill="#463814" filter="url(#fb5)"/><path d="M556.0,622.0 C561.0,617.5 580.7,623.3 590.0,628.0 C599.3,632.7 609.5,641.3 612.0,650.0 C614.5,658.7 610.3,675.0 605.0,680.0 C599.7,685.0 587.5,684.2 580.0,680.0 C572.5,675.8 564.0,664.7 560.0,655.0 C556.0,645.3 551.0,626.5 556.0,622.0Z" fill="#cbb878" filter="url(#fb5)"/><ellipse cx="633" cy="637" rx="8" ry="6" fill="#f2e4a8" filter="url(#fb2)"/><ellipse cx="616" cy="668" rx="12" ry="16" transform="rotate(-30 616 668)" fill="#9a8c58" filter="url(#fb3)"/><ellipse cx="528" cy="615" rx="20" ry="10" transform="rotate(30 528 615)" fill="#e8dca8" filter="url(#fb3)"/><path d="M640.0,640.0 C642.0,636.7 650.3,663.3 652.0,680.0 C653.7,696.7 652.3,721.7 650.0,740.0 C647.7,758.3 643.8,776.3 638.0,790.0 C632.2,803.7 616.7,827.0 615.0,822.0 C613.3,817.0 623.8,780.3 628.0,760.0 C632.2,739.7 638.0,720.0 640.0,700.0 C642.0,680.0 638.0,643.3 640.0,640.0Z" fill="#2e2410" filter="url(#fb3)"/><path d="M345.0,680.0 C355.0,673.3 423.3,680.8 440.0,690.0 C456.7,699.2 455.0,728.3 445.0,735.0 C435.0,741.7 396.7,739.2 380.0,730.0 C363.3,720.8 335.0,686.7 345.0,680.0Z" fill="#c8b276" filter="url(#fb2)"/><path d="M325.0,760.0 C326.2,768.3 337.5,779.7 345.0,788.0 C352.5,796.3 361.7,803.5 370.0,810.0 C378.3,816.5 386.7,821.5 395.0,827.0 C403.3,832.5 413.8,838.8 420.0,843.0 C426.2,847.2 428.7,852.5 432.0,852.0 C435.3,851.5 441.2,848.7 440.0,840.0 C438.8,831.3 430.8,813.3 425.0,800.0 C419.2,786.7 411.7,770.8 405.0,760.0 C398.3,749.2 392.2,741.3 385.0,735.0 C377.8,728.7 369.8,721.5 362.0,722.0 C354.2,722.5 344.2,731.7 338.0,738.0 C331.8,744.3 323.8,751.7 325.0,760.0Z" fill="#f6f0da" filter="url(#fb2)"/><path d="M360.0,690.0 C363.3,687.3 376.7,687.3 384.0,696.0 C391.3,704.7 398.0,724.7 404.0,742.0 C410.0,759.3 416.7,785.0 420.0,800.0 C423.3,815.0 425.3,827.0 424.0,832.0 C422.7,837.0 416.7,836.7 412.0,830.0 C407.3,823.3 401.7,806.7 396.0,792.0 C390.3,777.3 383.3,755.3 378.0,742.0 C372.7,728.7 367.0,720.7 364.0,712.0 C361.0,703.3 356.7,692.7 360.0,690.0Z" fill="#6e5e30" filter="url(#fb5)"/><ellipse cx="406" cy="768" rx="6" ry="12" transform="rotate(-20 406 768)" fill="#8a4a30" opacity="0.6" filter="url(#fb2)"/><path d="M428.0,762.0 C436.0,755.0 456.7,755.7 470.0,758.0 C483.3,760.3 500.0,767.3 508.0,776.0 C516.0,784.7 517.7,799.7 518.0,810.0 C518.3,820.3 518.0,832.3 510.0,838.0 C502.0,843.7 482.3,844.3 470.0,844.0 C457.7,843.7 444.0,843.3 436.0,836.0 C428.0,828.7 423.3,812.3 422.0,800.0 C420.7,787.7 420.0,769.0 428.0,762.0Z" fill="#f8f2dc" filter="url(#fb5)"/><path d="M540.0,775.0 C547.5,772.5 569.2,784.2 580.0,790.0 C590.8,795.8 602.5,802.5 605.0,810.0 C607.5,817.5 602.5,831.7 595.0,835.0 C587.5,838.3 570.0,835.0 560.0,830.0 C550.0,825.0 538.3,814.2 535.0,805.0 C531.7,795.8 532.5,777.5 540.0,775.0Z" fill="#2a2416" filter="url(#fb3)"/><ellipse cx="535" cy="832" rx="10" ry="20" transform="rotate(-20 535 832)" fill="#7a2a1a" opacity="0.7" filter="url(#fb3)"/></g>
<path d="M427.0,853.0 C432.5,857.3 447.8,874.5 460.0,879.0 C472.2,883.5 485.0,882.5 500.0,880.0 C515.0,877.5 536.7,869.0 550.0,864.0 C563.3,859.0 575.0,852.3 580.0,850.0 C576.7,849.3 568.3,846.7 560.0,846.0 C551.7,845.3 541.7,846.5 530.0,846.0 C518.3,845.5 502.5,843.0 490.0,843.0 C477.5,843.0 465.5,844.3 455.0,846.0 C444.5,847.7 431.7,851.8 427.0,853.0Z" fill="#2e2812"/>
<path d="M465.0,852.0 C468.3,849.5 487.5,847.2 500.0,847.0 C512.5,846.8 539.2,848.8 540.0,851.0 C540.8,853.2 515.0,858.2 505.0,860.0 C495.0,861.8 486.7,863.3 480.0,862.0 C473.3,860.7 461.7,854.5 465.0,852.0Z" fill="#8a7a48" opacity="0.7" filter="url(#fb3)"/>
<path d="M318.0,652.0 C322.2,649.0 338.7,646.7 345.0,648.0 C351.3,649.3 356.8,656.7 356.0,660.0 C355.2,663.3 346.0,667.0 340.0,668.0 C334.0,669.0 323.7,668.7 320.0,666.0 C316.3,663.3 313.8,655.0 318.0,652.0Z" fill="#3a2a10" opacity="0.85" filter="url(#fb2)"/>
<path d="M253.3,529.1 L376.1,615.1 L391.6,593.0 L268.7,506.9Z" fill="url(#gw1)"/><path d="M318.0,436.7 L393.5,590.3 M315.4,440.3 L391.0,593.9 M312.9,443.9 L388.5,597.5 M310.4,447.5 L385.9,601.1 M307.9,451.1 L383.4,604.7 M305.3,454.7 L380.9,608.3 M302.8,458.3 L378.4,611.9 M300.3,461.9 L375.8,615.5 M297.8,465.5 L373.3,619.1 M295.2,469.1 L370.8,622.7 M292.7,472.7 L368.3,626.3 M290.2,476.3 L365.7,629.9 M287.7,479.9 L363.2,633.5 M285.1,483.5 L360.7,637.1 M282.6,487.1 L358.2,640.7 M280.1,490.7 L355.7,644.3 M277.6,494.3 L353.1,647.9 M275.1,497.9 L350.6,651.5 M272.5,501.5 L348.1,655.2 M270.0,505.1 L345.6,658.8 M267.5,508.7 L343.0,662.4 M265.0,512.3 L340.5,666.0 M262.4,516.0 L338.0,669.6 M259.9,519.6 L335.5,673.2 M257.4,523.2 L332.9,676.8 M254.9,526.8 L330.4,680.4 M252.3,530.4 L327.9,684.0 M249.8,534.0 L325.4,687.6 M247.3,537.6 L322.8,691.2 M244.8,541.2 L320.3,694.8 " stroke="#3a3a3a" stroke-width="1.15" opacity="0.85" clip-path="url(#cs2)"/><ellipse cx="261.0" cy="518.0" rx="6.8" ry="13.5" transform="rotate(35.0 261.0 518.0)" fill="#e4e4e4" stroke="#909090" stroke-width="1"/><circle cx="261.0" cy="518.0" r="1.9" fill="none" stroke="#8a8a8a" stroke-width="0.7"/><circle cx="264.9" cy="512.5" r="1.9" fill="none" stroke="#8a8a8a" stroke-width="0.7"/><circle cx="257.1" cy="523.5" r="1.9" fill="none" stroke="#8a8a8a" stroke-width="0.7"/><circle cx="261.6" cy="514.3" r="1.9" fill="none" stroke="#8a8a8a" stroke-width="0.7"/><circle cx="260.4" cy="521.7" r="1.9" fill="none" stroke="#8a8a8a" stroke-width="0.7"/><circle cx="257.6" cy="520.5" r="1.9" fill="none" stroke="#8a8a8a" stroke-width="0.7"/><circle cx="264.4" cy="515.5" r="1.9" fill="none" stroke="#8a8a8a" stroke-width="0.7"/>
<path d="M281.8,564.1 L433.4,670.2 L451.7,644.0 L300.2,537.9Z" fill="url(#gw3)"/><path d="M313.1,519.5 L454.0,640.7 M310.2,523.6 L451.1,644.8 M307.3,527.7 L448.3,648.9 M304.5,531.7 L445.4,653.0 M301.6,535.8 L442.5,657.1 M298.7,539.9 L439.7,661.2 M295.9,544.0 L436.8,665.3 M293.0,548.1 L433.9,669.4 M290.1,552.2 L431.1,673.5 M287.3,556.3 L428.2,677.6 M284.4,560.4 L425.3,681.7 M281.5,564.5 L422.5,685.8 M278.7,568.6 L419.6,689.9 M275.8,572.7 L416.7,694.0 M272.9,576.8 L413.9,698.1 " stroke="#3a3a3a" stroke-width="0.8" opacity="0.3" clip-path="url(#cs4)"/><ellipse cx="291.0" cy="551.0" rx="8.0" ry="16.0" transform="rotate(35.0 291.0 551.0)" fill="#d8d8d8" stroke="#909090" stroke-width="1"/><circle cx="291.0" cy="551.0" r="2.3" fill="none" stroke="#8a8a8a" stroke-width="0.7"/><circle cx="295.6" cy="544.4" r="2.3" fill="none" stroke="#8a8a8a" stroke-width="0.7"/><circle cx="286.4" cy="557.6" r="2.3" fill="none" stroke="#8a8a8a" stroke-width="0.7"/><circle cx="291.7" cy="546.6" r="2.3" fill="none" stroke="#8a8a8a" stroke-width="0.7"/><circle cx="290.3" cy="555.4" r="2.3" fill="none" stroke="#8a8a8a" stroke-width="0.7"/><circle cx="286.9" cy="554.0" r="2.3" fill="none" stroke="#8a8a8a" stroke-width="0.7"/><circle cx="295.1" cy="548.0" r="2.3" fill="none" stroke="#8a8a8a" stroke-width="0.7"/>
<path d="M259.0,583.0 L378.8,673.3 L396.8,649.3 L277.0,559.0Z" fill="url(#gw5)"/><path d="M290.6,541.1 L401.3,643.3 M287.6,545.0 L398.3,647.3 M284.5,549.0 L395.3,651.3 M281.5,553.0 L392.3,655.3 M278.5,557.0 L389.3,659.3 M275.5,561.0 L386.3,663.3 M272.5,565.0 L383.3,667.3 M269.5,569.0 L380.3,671.3 M266.5,573.0 L377.3,675.2 M263.5,577.0 L374.3,679.2 M260.5,581.0 L371.2,683.2 M257.5,585.0 L368.2,687.2 M254.5,589.0 L365.2,691.2 M251.5,593.0 L362.2,695.2 M248.4,597.0 L359.2,699.2 " stroke="#3a3a3a" stroke-width="0.8" opacity="0.3" clip-path="url(#cs6)"/><ellipse cx="268.0" cy="571.0" rx="7.5" ry="15.0" transform="rotate(37.0 268.0 571.0)" fill="#d8d8d8" stroke="#909090" stroke-width="1"/><circle cx="268.0" cy="571.0" r="2.1" fill="none" stroke="#8a8a8a" stroke-width="0.7"/><circle cx="272.5" cy="565.0" r="2.1" fill="none" stroke="#8a8a8a" stroke-width="0.7"/><circle cx="263.5" cy="577.0" r="2.1" fill="none" stroke="#8a8a8a" stroke-width="0.7"/><circle cx="268.8" cy="566.9" r="2.1" fill="none" stroke="#8a8a8a" stroke-width="0.7"/><circle cx="267.2" cy="575.1" r="2.1" fill="none" stroke="#8a8a8a" stroke-width="0.7"/><circle cx="264.1" cy="573.7" r="2.1" fill="none" stroke="#8a8a8a" stroke-width="0.7"/><circle cx="271.9" cy="568.3" r="2.1" fill="none" stroke="#8a8a8a" stroke-width="0.7"/>
<ellipse cx="433.2" cy="582.4" rx="11.6" ry="21.0" transform="rotate(36.0 433.2 582.4)" fill="url(#gw7)"/><path d="M370.7,563.0 L420.8,599.4 L445.5,565.5 L395.3,529.0Z" fill="url(#gw7)"/><ellipse cx="383.0" cy="546.0" rx="11.6" ry="21.0" transform="rotate(36.0 383.0 546.0)" fill="#3c8f3c"/>
<ellipse cx="383.0" cy="546.0" rx="10.5" ry="21.0" transform="rotate(36.0 383.0 546.0)" fill="#7aa87a"/><ellipse cx="384.2" cy="546.9" rx="6.3" ry="13.0" transform="rotate(36.0 384.2 546.9)" fill="#4a7a4a"/>
<path d="M311.1,500.8 L373.3,556.8 L392.7,535.2 L330.5,479.2Z" fill="url(#gw8)"/><path d="M364.4,441.6 L395.8,531.8 M361.4,444.9 L392.8,535.1 M358.5,448.2 L389.9,538.4 M355.5,451.4 L386.9,541.6 M352.6,454.7 L384.0,544.9 M349.6,458.0 L381.0,548.2 M346.7,461.2 L378.1,551.4 M343.8,464.5 L375.2,554.7 M340.8,467.8 L372.2,558.0 M337.9,471.0 L369.3,561.3 M334.9,474.3 L366.3,564.5 M332.0,477.6 L363.4,567.8 M329.0,480.9 L360.4,571.1 M326.1,484.1 L357.5,574.3 M323.1,487.4 L354.5,577.6 M320.2,490.7 L351.6,580.9 M317.3,493.9 L348.7,584.1 M314.3,497.2 L345.7,587.4 M311.4,500.5 L342.8,590.7 M308.4,503.7 L339.8,594.0 M305.5,507.0 L336.9,597.2 M302.5,510.3 L333.9,600.5 " stroke="#3a3a3a" stroke-width="1.15" opacity="0.85" clip-path="url(#cs9)"/><ellipse cx="320.8" cy="490.0" rx="7.2" ry="14.5" transform="rotate(42.0 320.8 490.0)" fill="#e4e4e4" stroke="#909090" stroke-width="1"/><circle cx="320.8" cy="490.0" r="2.1" fill="none" stroke="#8a8a8a" stroke-width="0.7"/><circle cx="325.7" cy="484.6" r="2.1" fill="none" stroke="#8a8a8a" stroke-width="0.7"/><circle cx="315.9" cy="495.4" r="2.1" fill="none" stroke="#8a8a8a" stroke-width="0.7"/><circle cx="321.9" cy="486.1" r="2.1" fill="none" stroke="#8a8a8a" stroke-width="0.7"/><circle cx="319.7" cy="493.9" r="2.1" fill="none" stroke="#8a8a8a" stroke-width="0.7"/><circle cx="316.8" cy="492.3" r="2.1" fill="none" stroke="#8a8a8a" stroke-width="0.7"/><circle cx="324.8" cy="487.7" r="2.1" fill="none" stroke="#8a8a8a" stroke-width="0.7"/>
<ellipse cx="482.0" cy="553.0" rx="10.0" ry="26.0" transform="rotate(12.0 482.0 553.0)" fill="#4a3c18" stroke="#2a2008" stroke-width="1"/>
<ellipse cx="469.4" cy="555.9" rx="12.7" ry="23.0" transform="rotate(33.0 469.4 555.9)" fill="url(#gw10)"/><path d="M412.5,546.3 L456.9,575.2 L482.0,536.6 L437.5,507.7Z" fill="url(#gw10)"/><ellipse cx="425.0" cy="527.0" rx="12.7" ry="23.0" transform="rotate(33.0 425.0 527.0)" fill="#9c9c9c"/>
<ellipse cx="425.0" cy="527.0" rx="11.5" ry="23.0" transform="rotate(33.0 425.0 527.0)" fill="#969696"/><ellipse cx="426.3" cy="527.8" rx="6.9" ry="14.3" transform="rotate(33.0 426.3 527.8)" fill="#5c5c5c"/>
<path d="M350.5,482.0 L415.5,538.0 L434.5,516.0 L369.5,460.0Z" fill="url(#gw11)"/><path d="M402.5,421.7 L436.7,513.4 M399.6,425.0 L433.8,516.8 M396.7,428.3 L430.9,520.1 M393.9,431.7 L428.1,523.4 M391.0,435.0 L425.2,526.8 M388.1,438.3 L422.3,530.1 M385.3,441.7 L419.5,533.4 M382.4,445.0 L416.6,536.8 M379.5,448.3 L413.7,540.1 M376.6,451.7 L410.8,543.4 M373.8,455.0 L408.0,546.8 M370.9,458.3 L405.1,550.1 M368.0,461.7 L402.2,553.4 M365.2,465.0 L399.4,556.8 M362.3,468.3 L396.5,560.1 M359.4,471.7 L393.6,563.4 M356.5,475.0 L390.7,566.8 M353.7,478.3 L387.9,570.1 M350.8,481.7 L385.0,573.4 M347.9,485.0 L382.1,576.8 M345.1,488.3 L379.3,580.1 M342.2,491.7 L376.4,583.4 " stroke="#3a3a3a" stroke-width="1.15" opacity="0.85" clip-path="url(#cs12)"/><ellipse cx="360.0" cy="471.0" rx="7.2" ry="14.5" transform="rotate(40.7 360.0 471.0)" fill="#e4e4e4" stroke="#909090" stroke-width="1"/><circle cx="360.0" cy="471.0" r="2.1" fill="none" stroke="#8a8a8a" stroke-width="0.7"/><circle cx="364.7" cy="465.5" r="2.1" fill="none" stroke="#8a8a8a" stroke-width="0.7"/><circle cx="355.3" cy="476.5" r="2.1" fill="none" stroke="#8a8a8a" stroke-width="0.7"/><circle cx="361.0" cy="467.1" r="2.1" fill="none" stroke="#8a8a8a" stroke-width="0.7"/><circle cx="359.0" cy="474.9" r="2.1" fill="none" stroke="#8a8a8a" stroke-width="0.7"/><circle cx="356.1" cy="473.3" r="2.1" fill="none" stroke="#8a8a8a" stroke-width="0.7"/><circle cx="363.9" cy="468.7" r="2.1" fill="none" stroke="#8a8a8a" stroke-width="0.7"/>
<path d="M480.0,527.0 C481.7,528.2 487.8,529.8 490.0,534.0 C492.2,538.2 493.2,546.0 493.0,552.0 C492.8,558.0 491.2,565.3 489.0,570.0 C486.8,574.7 481.5,578.3 480.0,580.0" fill="none" stroke="#e2d6a6" stroke-width="3"/>
<ellipse cx="343.4" cy="660.7" rx="7.7" ry="14.0" transform="rotate(34.0 343.4 660.7)" fill="url(#gw13)"/><path d="M284.2,637.6 L335.6,672.3 L351.2,649.1 L299.8,614.4Z" fill="url(#gw13)"/><ellipse cx="292.0" cy="626.0" rx="7.7" ry="14.0" transform="rotate(34.0 292.0 626.0)" fill="#c8c03a"/>
<ellipse cx="292.0" cy="626.0" rx="7.0" ry="14.0" transform="rotate(34.0 292.0 626.0)" fill="#cfc650"/><ellipse cx="293.2" cy="626.8" rx="4.2" ry="8.7" transform="rotate(34.0 293.2 626.8)" fill="#9a9020"/>
<path d="M221.2,570.2 L282.2,635.2 L301.8,616.8 L240.8,551.8Z" fill="url(#gw14)"/><path d="M280.9,514.1 L306.2,612.7 M277.7,517.1 L303.0,615.7 M274.5,520.1 L299.8,618.7 M271.3,523.2 L296.6,621.7 M268.1,526.2 L293.4,624.7 M264.9,529.2 L290.2,627.7 M261.7,532.2 L286.9,630.7 M258.5,535.2 L283.7,633.8 M255.3,538.2 L280.5,636.8 M252.1,541.2 L277.3,639.8 M248.9,544.2 L274.1,642.8 M245.7,547.2 L270.9,645.8 M242.4,550.3 L267.7,648.8 M239.2,553.3 L264.5,651.8 M236.0,556.3 L261.3,654.8 M232.8,559.3 L258.1,657.8 M229.6,562.3 L254.9,660.9 M226.4,565.3 L251.7,663.9 M223.2,568.3 L248.4,666.9 M220.0,571.3 L245.2,669.9 M216.8,574.3 L242.0,672.9 M213.6,577.4 L238.8,675.9 M210.4,580.4 L235.6,678.9 " stroke="#3a3a3a" stroke-width="1.15" opacity="0.85" clip-path="url(#cs15)"/><ellipse cx="231.0" cy="561.0" rx="6.8" ry="13.5" transform="rotate(46.8 231.0 561.0)" fill="#e4e4e4" stroke="#909090" stroke-width="1"/><circle cx="231.0" cy="561.0" r="1.9" fill="none" stroke="#8a8a8a" stroke-width="0.7"/><circle cx="235.9" cy="556.4" r="1.9" fill="none" stroke="#8a8a8a" stroke-width="0.7"/><circle cx="226.1" cy="565.6" r="1.9" fill="none" stroke="#8a8a8a" stroke-width="0.7"/><circle cx="232.3" cy="557.5" r="1.9" fill="none" stroke="#8a8a8a" stroke-width="0.7"/><circle cx="229.7" cy="564.5" r="1.9" fill="none" stroke="#8a8a8a" stroke-width="0.7"/><circle cx="227.1" cy="562.8" r="1.9" fill="none" stroke="#8a8a8a" stroke-width="0.7"/><circle cx="234.9" cy="559.2" r="1.9" fill="none" stroke="#8a8a8a" stroke-width="0.7"/>
<g clip-path="url(#cInside)">
<ellipse cx="568.9" cy="799.7" rx="12.7" ry="23.0" transform="rotate(38.0 568.9 799.7)" fill="url(#gw16)"/><path d="M416.8,710.1 L554.7,817.9 L583.1,781.6 L445.2,673.9Z" fill="url(#gw16)"/><ellipse cx="431.0" cy="692.0" rx="12.7" ry="23.0" transform="rotate(38.0 431.0 692.0)" fill="#3a3a3a"/>
<ellipse cx="431.0" cy="692.0" rx="11.5" ry="23.0" transform="rotate(38.0 431.0 692.0)" fill="#6a6a6a"/><ellipse cx="432.2" cy="692.9" rx="6.9" ry="14.3" transform="rotate(38.0 432.2 692.9)" fill="#2a2a2a"/>
<path d="M324.8,613.8 L420.4,703.3 L441.6,680.7 L346.0,591.2Z" fill="url(#gw17)"/><path d="M398.6,535.0 L445.0,677.1 M395.6,538.2 L442.0,680.3 M392.6,541.4 L439.0,683.5 M389.6,544.6 L436.0,686.7 M386.6,547.8 L433.0,689.9 M383.6,551.0 L430.0,693.1 M380.6,554.2 L426.9,696.3 M377.6,557.5 L423.9,699.5 M374.6,560.7 L420.9,702.8 M371.6,563.9 L417.9,706.0 M368.5,567.1 L414.9,709.2 M365.5,570.3 L411.9,712.4 M362.5,573.5 L408.9,715.6 M359.5,576.7 L405.9,718.8 M356.5,579.9 L402.9,722.0 M353.5,583.2 L399.9,725.2 M350.5,586.4 L396.9,728.4 M347.5,589.6 L393.9,731.7 M344.5,592.8 L390.9,734.9 M341.5,596.0 L387.9,738.1 M338.5,599.2 L384.9,741.3 M335.5,602.4 L381.8,744.5 M332.5,605.6 L378.8,747.7 M329.5,608.9 L375.8,750.9 M326.4,612.1 L372.8,754.1 M323.4,615.3 L369.8,757.4 M320.4,618.5 L366.8,760.6 M317.4,621.7 L363.8,763.8 M314.4,624.9 L360.8,767.0 " stroke="#3a3a3a" stroke-width="1.15" opacity="0.85" clip-path="url(#cs18)"/><ellipse cx="335.4" cy="602.5" rx="7.8" ry="15.5" transform="rotate(43.1 335.4 602.5)" fill="#e4e4e4" stroke="#909090" stroke-width="1"/><circle cx="335.4" cy="602.5" r="2.2" fill="none" stroke="#8a8a8a" stroke-width="0.7"/><circle cx="340.7" cy="596.8" r="2.2" fill="none" stroke="#8a8a8a" stroke-width="0.7"/><circle cx="330.1" cy="608.2" r="2.2" fill="none" stroke="#8a8a8a" stroke-width="0.7"/><circle cx="336.6" cy="598.3" r="2.2" fill="none" stroke="#8a8a8a" stroke-width="0.7"/><circle cx="334.2" cy="606.7" r="2.2" fill="none" stroke="#8a8a8a" stroke-width="0.7"/><circle cx="331.1" cy="604.8" r="2.2" fill="none" stroke="#8a8a8a" stroke-width="0.7"/><circle cx="339.7" cy="600.2" r="2.2" fill="none" stroke="#8a8a8a" stroke-width="0.7"/>
<ellipse cx="617.6" cy="775.8" rx="12.8" ry="28.5" transform="rotate(42.0 617.6 775.8)" fill="#9a1a1a"/><path d="M449.9,663.2 L598.6,797.0 L636.7,754.6 L488.1,620.8Z" fill="url(#gw19)"/><ellipse cx="469.0" cy="642.0" rx="12.8" ry="28.5" transform="rotate(42.0 469.0 642.0)" fill="#7a1414"/>
<ellipse cx="469.0" cy="642.0" rx="12.8" ry="28.5" transform="rotate(42.0 469.0 642.0)" fill="#7a1a1a"/><ellipse cx="470.1" cy="643.0" rx="7.7" ry="17.7" transform="rotate(42.0 470.1 643.0)" fill="#4a0a0a"/>
</g>
<path d="M322.0,570.4 L460.0,656.4 L478.0,627.6 L340.0,541.6Z" fill="url(#gw20)"/><path d="M390.0,461.3 L480.7,623.2 M387.7,465.0 L478.4,626.9 M385.4,468.8 L476.1,630.7 M383.0,472.5 L473.7,634.4 M380.7,476.2 L471.4,638.1 M378.4,480.0 L469.1,641.9 M376.1,483.7 L466.8,645.6 M373.7,487.4 L464.4,649.3 M371.4,491.2 L462.1,653.1 M369.1,494.9 L459.8,656.8 M366.8,498.6 L457.5,660.5 M364.4,502.4 L455.1,664.3 M362.1,506.1 L452.8,668.0 M359.8,509.8 L450.5,671.7 M357.4,513.6 L448.1,675.5 M355.1,517.3 L445.8,679.2 M352.8,521.0 L443.5,682.9 M350.5,524.8 L441.2,686.7 M348.1,528.5 L438.8,690.4 M345.8,532.2 L436.5,694.1 M343.5,536.0 L434.2,697.9 M341.2,539.7 L431.9,701.6 M338.8,543.4 L429.5,705.3 M336.5,547.2 L427.2,709.1 M334.2,550.9 L424.9,712.8 M331.8,554.6 L422.5,716.5 M329.5,558.4 L420.2,720.3 M327.2,562.1 L417.9,724.0 M324.9,565.8 L415.6,727.7 M322.5,569.6 L413.2,731.5 M320.2,573.3 L410.9,735.2 M317.9,577.0 L408.6,738.9 M315.6,580.8 L406.3,742.7 " stroke="#3a3a3a" stroke-width="1.15" opacity="0.85" clip-path="url(#cs21)"/><ellipse cx="331.0" cy="556.0" rx="8.5" ry="17.0" transform="rotate(31.9 331.0 556.0)" fill="#e4e4e4" stroke="#909090" stroke-width="1"/><circle cx="331.0" cy="556.0" r="2.4" fill="none" stroke="#8a8a8a" stroke-width="0.7"/><circle cx="335.5" cy="548.8" r="2.4" fill="none" stroke="#8a8a8a" stroke-width="0.7"/><circle cx="326.5" cy="563.2" r="2.4" fill="none" stroke="#8a8a8a" stroke-width="0.7"/><circle cx="331.4" cy="551.3" r="2.4" fill="none" stroke="#8a8a8a" stroke-width="0.7"/><circle cx="330.6" cy="560.7" r="2.4" fill="none" stroke="#8a8a8a" stroke-width="0.7"/><circle cx="326.9" cy="559.4" r="2.4" fill="none" stroke="#8a8a8a" stroke-width="0.7"/><circle cx="335.1" cy="552.6" r="2.4" fill="none" stroke="#8a8a8a" stroke-width="0.7"/>
<ellipse cx="363.6" cy="707.7" rx="8.2" ry="15.0" transform="rotate(32.0 363.6 707.7)" fill="url(#gw22)"/><path d="M292.1,680.7 L355.7,720.5 L371.6,695.0 L307.9,655.3Z" fill="url(#gw22)"/><ellipse cx="300.0" cy="668.0" rx="8.2" ry="15.0" transform="rotate(32.0 300.0 668.0)" fill="#4a2aa8"/>
<ellipse cx="300.0" cy="668.0" rx="7.5" ry="15.0" transform="rotate(32.0 300.0 668.0)" fill="#5a3ab8"/><ellipse cx="301.3" cy="668.8" rx="4.5" ry="9.3" transform="rotate(32.0 301.3 668.8)" fill="#2a1070"/>
<path d="M215.9,635.1 L292.9,680.1 L307.1,655.9 L230.1,610.9Z" fill="url(#gw23)"/><path d="M257.8,563.4 L310.1,650.8 M255.6,567.2 L307.8,654.6 M253.4,571.0 L305.6,658.4 M251.2,574.8 L303.4,662.2 M248.9,578.6 L301.2,666.0 M246.7,582.4 L299.0,669.8 M244.5,586.2 L296.7,673.6 M242.3,590.0 L294.5,677.4 M240.1,593.8 L292.3,681.2 M237.8,597.6 L290.1,685.0 M235.6,601.4 L287.9,688.8 M233.4,605.2 L285.6,692.6 M231.2,609.0 L283.4,696.4 M229.0,612.8 L281.2,700.2 M226.7,616.6 L279.0,704.0 M224.5,620.4 L276.8,707.8 M222.3,624.2 L274.5,711.6 M220.1,628.0 L272.3,715.4 M217.9,631.8 L270.1,719.2 M215.6,635.6 L267.9,723.0 M213.4,639.4 L265.7,726.8 M211.2,643.2 L263.4,730.6 M209.0,647.0 L261.2,734.4 " stroke="#3a3a3a" stroke-width="1.15" opacity="0.85" clip-path="url(#cs24)"/><ellipse cx="223.0" cy="623.0" rx="7.0" ry="14.0" transform="rotate(30.3 223.0 623.0)" fill="#e4e4e4" stroke="#909090" stroke-width="1"/><circle cx="223.0" cy="623.0" r="2.0" fill="none" stroke="#8a8a8a" stroke-width="0.7"/><circle cx="226.5" cy="617.0" r="2.0" fill="none" stroke="#8a8a8a" stroke-width="0.7"/><circle cx="219.5" cy="629.0" r="2.0" fill="none" stroke="#8a8a8a" stroke-width="0.7"/><circle cx="223.3" cy="619.1" r="2.0" fill="none" stroke="#8a8a8a" stroke-width="0.7"/><circle cx="222.7" cy="626.9" r="2.0" fill="none" stroke="#8a8a8a" stroke-width="0.7"/><circle cx="219.7" cy="625.9" r="2.0" fill="none" stroke="#8a8a8a" stroke-width="0.7"/><circle cx="226.3" cy="620.1" r="2.0" fill="none" stroke="#8a8a8a" stroke-width="0.7"/>
<ellipse cx="338.9" cy="736.8" rx="19.1" ry="29.0" transform="rotate(36.0 338.9 736.8)" fill="#b8561a"/><path d="M296.0,741.5 L321.8,760.3 L355.9,713.3 L330.0,694.5Z" fill="url(#gw25)"/><ellipse cx="313.0" cy="718.0" rx="19.1" ry="29.0" transform="rotate(36.0 313.0 718.0)" fill="#e07a30"/>
<ellipse cx="314.0" cy="719.0" rx="15.7" ry="23.8" transform="rotate(36.0 314.0 719.0)" fill="url(#gOrFace)"/>
<ellipse cx="301.0" cy="706.0" rx="5.5" ry="9.0" transform="rotate(36.0 301.0 706.0)" fill="#b86a40"/>
<path d="M224.3,663.5 L292.3,717.0 L309.7,695.0 L241.7,641.5Z" fill="url(#gw26)"/><path d="M272.9,601.7 L311.5,692.6 M270.2,605.2 L308.8,696.1 M267.5,608.6 L306.1,699.5 M264.8,612.1 L303.4,703.0 M262.1,615.6 L300.6,706.5 M259.3,619.0 L297.9,709.9 M256.6,622.5 L295.2,713.4 M253.9,625.9 L292.5,716.8 M251.2,629.4 L289.8,720.3 M248.5,632.9 L287.0,723.8 M245.7,636.3 L284.3,727.2 M243.0,639.8 L281.6,730.7 M240.3,643.2 L278.9,734.1 M237.6,646.7 L276.2,737.6 M234.9,650.1 L273.4,741.0 M232.1,653.6 L270.7,744.5 M229.4,657.1 L268.0,748.0 M226.7,660.5 L265.3,751.4 M224.0,664.0 L262.5,754.9 M221.3,667.4 L259.8,758.3 M218.5,670.9 L257.1,761.8 M215.8,674.3 L254.4,765.2 " stroke="#3a3a3a" stroke-width="1.15" opacity="0.85" clip-path="url(#cs27)"/><ellipse cx="233.0" cy="652.5" rx="7.0" ry="14.0" transform="rotate(38.2 233.0 652.5)" fill="#e4e4e4" stroke="#909090" stroke-width="1"/><circle cx="233.0" cy="652.5" r="2.0" fill="none" stroke="#8a8a8a" stroke-width="0.7"/><circle cx="237.3" cy="647.0" r="2.0" fill="none" stroke="#8a8a8a" stroke-width="0.7"/><circle cx="228.7" cy="658.0" r="2.0" fill="none" stroke="#8a8a8a" stroke-width="0.7"/><circle cx="233.8" cy="648.7" r="2.0" fill="none" stroke="#8a8a8a" stroke-width="0.7"/><circle cx="232.2" cy="656.3" r="2.0" fill="none" stroke="#8a8a8a" stroke-width="0.7"/><circle cx="229.3" cy="654.9" r="2.0" fill="none" stroke="#8a8a8a" stroke-width="0.7"/><circle cx="236.7" cy="650.1" r="2.0" fill="none" stroke="#8a8a8a" stroke-width="0.7"/>
<g font-size="64" font-weight="bold" fill="#36a0f6" stroke="#1a82dc" stroke-width="0.7" font-family="'Liberation Sans', sans-serif">
<path d="M60.3,94 H77 V100.7 H73 V131.3 H77 V138 H60.3 V131.3 H64.3 V100.7 H60.3 Z"/>
<text x="81" y="138" textLength="221" lengthAdjust="spacingAndGlyphs">nternal</text>
<text x="324" y="138" textLength="287" lengthAdjust="spacingAndGlyphs">Structure</text>
<text x="633" y="138" textLength="225" lengthAdjust="spacingAndGlyphs">Display</text>
<text x="881" y="138" textLength="261" lengthAdjust="spacingAndGlyphs">Diagram</text>
</g>
<g font-size="25.3" fill="#161616" font-family="'Liberation Sans', sans-serif">
<text x="155" y="316.6" textLength="165" lengthAdjust="spacingAndGlyphs">Oxygen-Free</text>
<text x="132" y="352.6" textLength="212" lengthAdjust="spacingAndGlyphs">Copper Wirecore</text>
<text x="550" y="415.8" textLength="275.5" lengthAdjust="spacingAndGlyphs">Conductive PVC layer</text>
<text x="736.5" y="494" textLength="160" lengthAdjust="spacingAndGlyphs">Pure Copper</text>
<text x="719.5" y="526.4" textLength="195" lengthAdjust="spacingAndGlyphs">Shielding Layer</text>
<text x="911" y="662" textLength="284" lengthAdjust="spacingAndGlyphs">Elastic protective layer</text>
<text x="203.5" y="1032" textLength="262" lengthAdjust="spacingAndGlyphs">Polyethylene coating</text>
</g>
<g stroke="#1a1a1a" stroke-width="1.6">
<line x1="230.4" y1="383" x2="230.4" y2="548"/>
<line x1="684" y1="442" x2="684" y2="680"/>
<line x1="813.5" y1="554" x2="813.5" y2="790"/>
<line x1="1048" y1="693" x2="1048" y2="930"/>
<line x1="326.5" y1="752" x2="326.5" y2="986"/>
</g>
<g>
<circle cx="230.2" cy="558" r="17" fill="url(#gDot)"/>
<circle cx="683.5" cy="690.5" r="16" fill="url(#gDot)"/>
<circle cx="813.5" cy="801" r="17" fill="url(#gDot)"/>
<circle cx="1048.7" cy="941" r="16" fill="url(#gDot)"/>
<circle cx="326.5" cy="736.5" r="16" fill="url(#gDot)"/>
</g>
</svg>
</body></html>
